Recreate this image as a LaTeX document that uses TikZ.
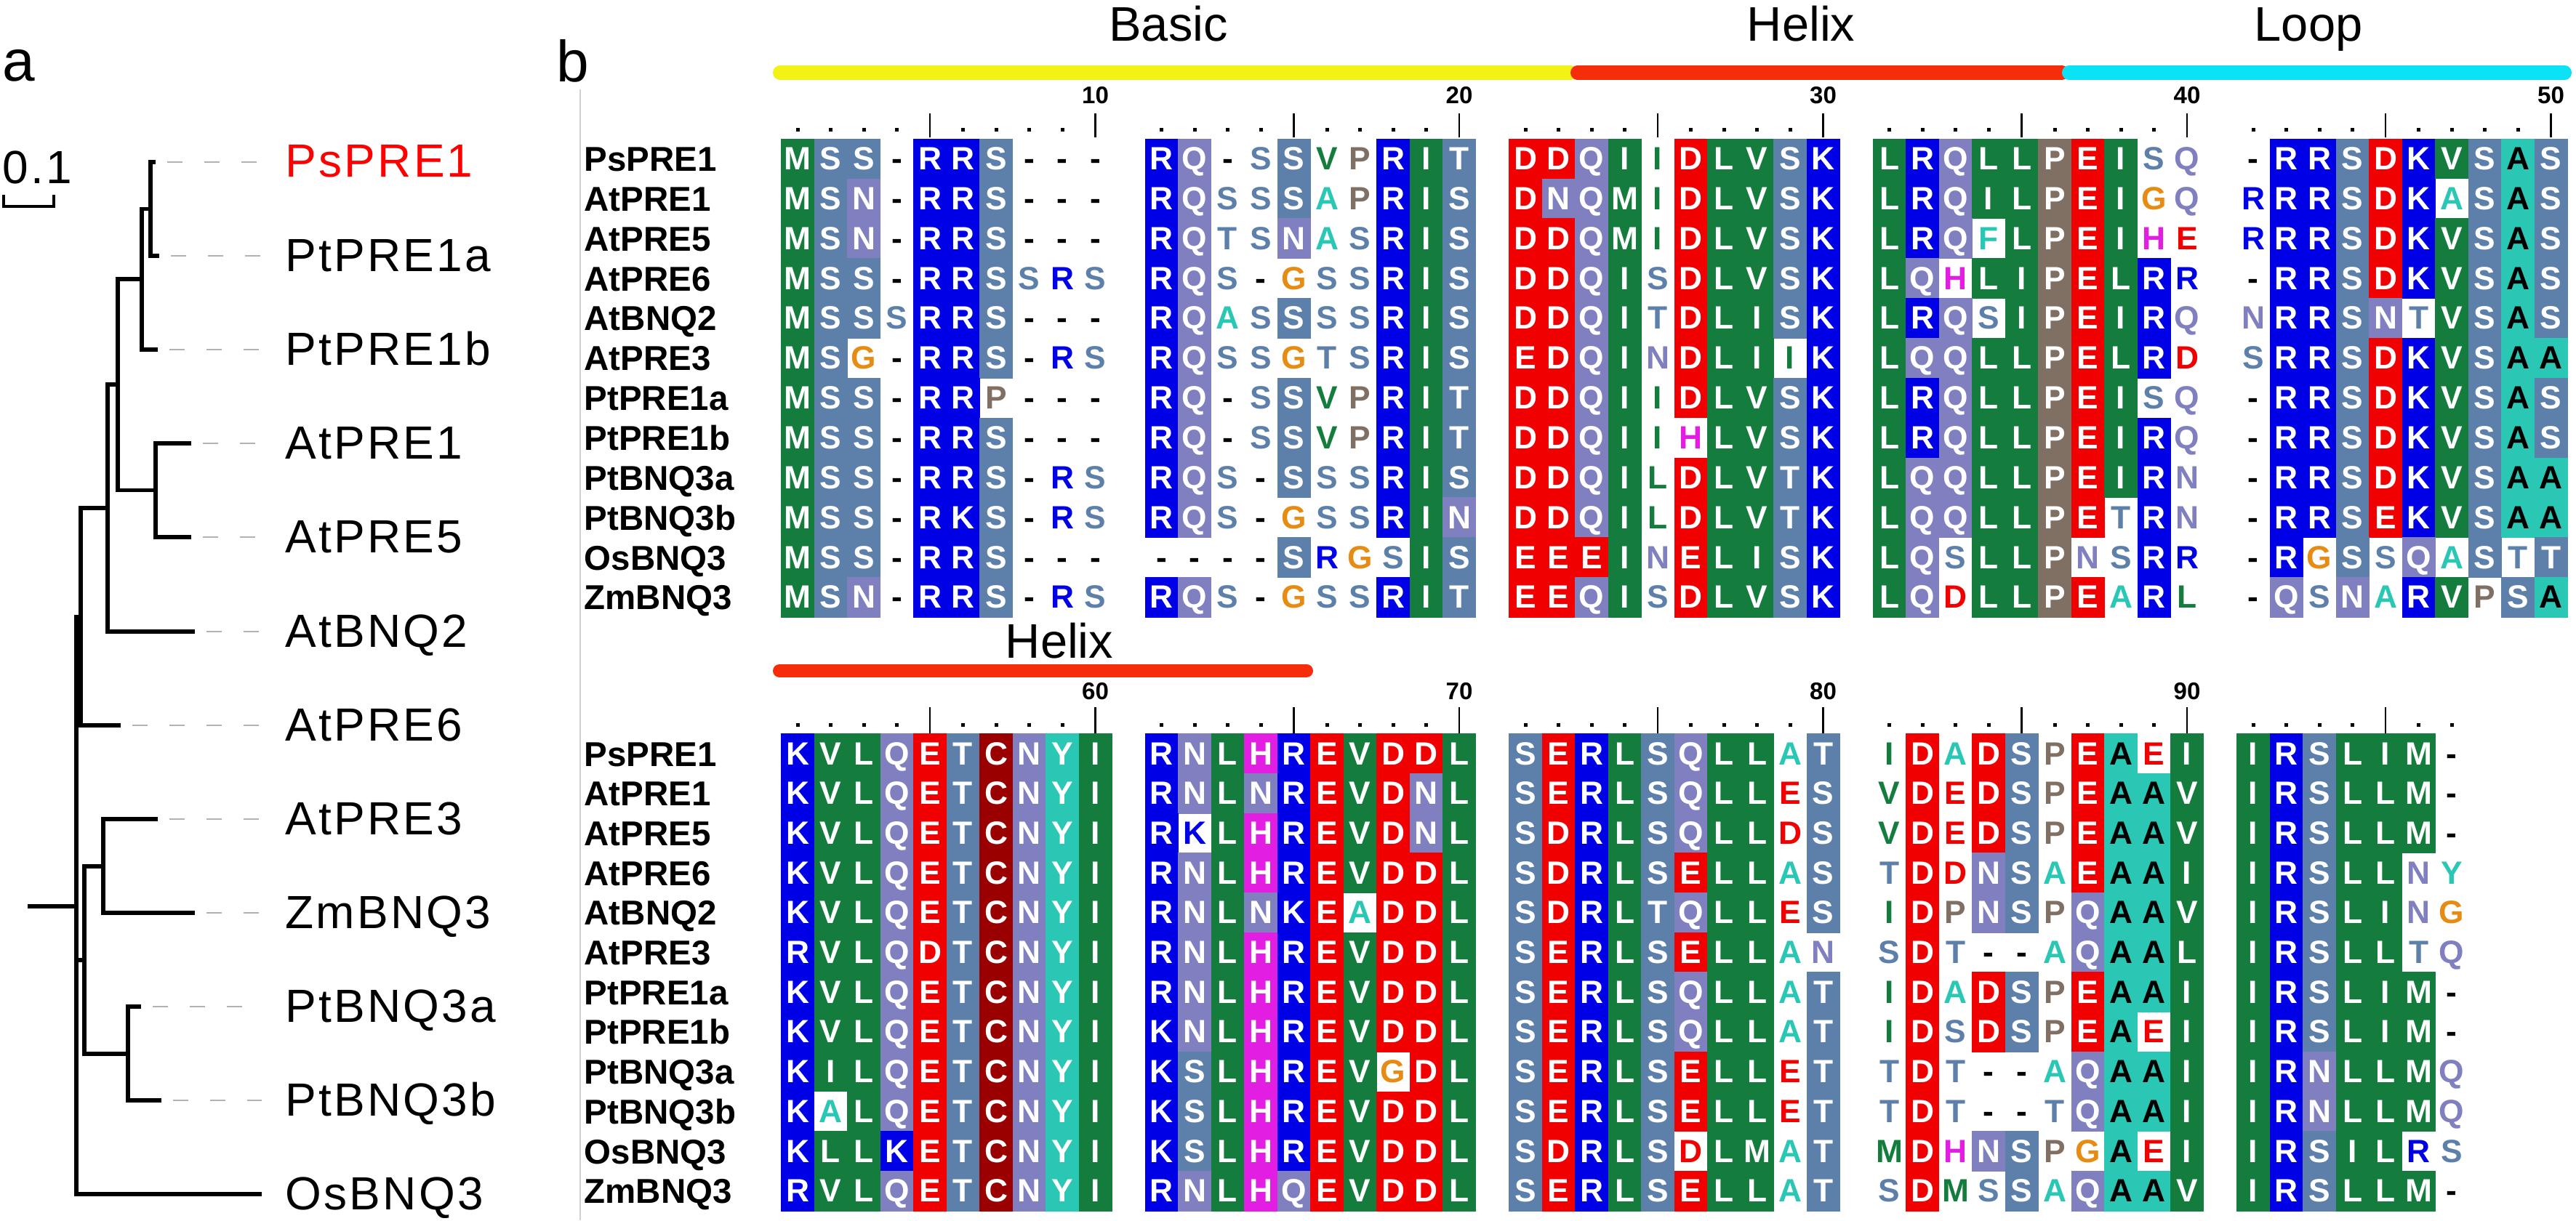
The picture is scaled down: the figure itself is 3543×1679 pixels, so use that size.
\documentclass[tikz,border=0pt]{standalone}
\usepackage{fontspec}
\setmainfont{Liberation Sans}
\newfontfamily\treefont[LetterSpace=5]{Liberation Sans}
\usetikzlibrary{calc}

% residue colours
\definecolor{posblue}{RGB}{0,0,230}
\definecolor{amidlav}{RGB}{128,128,192}
\definecolor{hydsteel}{RGB}{92,128,170}
\definecolor{hydgreen}{RGB}{20,125,62}
\definecolor{acidred}{RGB}{240,0,0}
\definecolor{probrown}{RGB}{128,112,100}
\definecolor{alateal}{RGB}{42,200,180}
\definecolor{hismag}{RGB}{225,30,225}
\definecolor{cysred}{RGB}{155,0,0}
\definecolor{glyorange}{RGB}{230,140,20}
\colorlet{resR}{posblue}\colorlet{resK}{posblue}
\colorlet{resN}{amidlav}\colorlet{resQ}{amidlav}
\colorlet{resS}{hydsteel}\colorlet{resT}{hydsteel}
\colorlet{resM}{hydgreen}\colorlet{resI}{hydgreen}
\colorlet{resL}{hydgreen}\colorlet{resV}{hydgreen}
\colorlet{resD}{acidred}\colorlet{resE}{acidred}
\colorlet{resP}{probrown}\colorlet{resG}{glyorange}
\colorlet{resA}{alateal}\colorlet{resY}{alateal}\colorlet{resF}{alateal}
\colorlet{resH}{hismag}\colorlet{resC}{cysred}
% region bars
\definecolor{basicyellow}{RGB}{242,242,22}
\definecolor{helixred}{RGB}{245,45,10}
\definecolor{loopcyan}{RGB}{12,226,245}

\tikzset{
  res/.style={font=\fontsize{12.6}{12.6}\selectfont\bfseries, inner sep=0pt, anchor=base},
  seqname/.style={font=\fontsize{13.5}{13.5}\selectfont\bfseries, inner sep=0pt, anchor=base west},
  leaflabel/.style={font=\treefont\fontsize{18.2}{18.2}\selectfont, inner sep=0pt, anchor=base west},
  branch/.style={line width=1.7pt},
  guide/.style={draw=black!30, line width=0.55pt, dash pattern=on 0.21cm off 0.3cm, shorten <=0.16cm},
  rulertick/.style={line width=0.7pt},
  rulernum/.style={font=\fontsize{9.4}{9.4}\selectfont\bfseries, inner sep=0pt, anchor=base},
  regionlabel/.style={font=\fontsize{19}{19}\selectfont, inner sep=0pt, anchor=base},
  regionbar/.style={line width=0.19cm, line cap=round},
  panel/.style={font=\fontsize{22.8}{22.8}\selectfont, inner sep=0pt, anchor=base west},
}

% one alignment row: upper case = shaded, lower case = coloured letter only
\makeatletter
\newcommand\alnrow[3]{%
  \def\al@tag{#1}\def\al@y{#2}\def\al@col{0}%
  \al@next#3\@nil}
\def\al@next#1{\ifx#1\@nil\else\al@cell{#1}\expandafter\al@next\fi}
\def\al@cell#1{%
  \pgfmathtruncatemacro\al@col{\al@col+1}%
  \pgfmathsetmacro\al@x{1097+500.5*int((\al@col-1)/10)+45.5*mod(\al@col-1,10)}%
  \uppercase{\def\al@up{#1}}%
  \if-#1%
    \node[res,text=black] (r\al@tag-\al@col) at (\al@x,\al@y+15) {-};%
  \else
    \if#1\al@up
      \fill[fill=res\al@up] (\al@x-23,\al@y-27.8) rectangle (\al@x+23,\al@y+27.8);%
      \if A#1\def\al@tc{black}\else\def\al@tc{white}\fi
      \node[res,text=\al@tc] (r\al@tag-\al@col) at (\al@x,\al@y+15) {\al@up};%
    \else
      \node[res,text=res\al@up] (r\al@tag-\al@col) at (\al@x,\al@y+15) {\al@up};%
    \fi
  \fi}
\makeatother

\begin{document}
\begin{tikzpicture}[x=0.01cm,y=-0.01cm]
\useasboundingbox (0,0) rectangle (3543,1679);

%% a: tree
\node[panel] (pa) at (3,112) {a};
\node[leaflabel] (scl) at (3,252) {0.1};
\draw[line width=1.2pt] (5,268) -- (5,284) -- (74,284) -- (74,268);

\coordinate (l1) at (214,223);
\coordinate (l2) at (219,352);
\coordinate (l3) at (217,481);
\coordinate (l4) at (263,610);
\coordinate (l5) at (263,739);
\coordinate (l6) at (268,869);
\coordinate (l7) at (166,998);
\coordinate (l8) at (217,1127);
\coordinate (l9) at (268,1256);
\coordinate (l10) at (194,1385);
\coordinate (l11) at (222,1514);
\coordinate (l12) at (360,1643);
\coordinate (gd) at (360,0);

\coordinate (n1) at (207,287.5);
\coordinate (n2) at (195,384);
\coordinate (n4) at (214,674.5);
\coordinate (n3) at (162,529);
\coordinate (n5) at (148,699);
\coordinate (n6) at (111,848.5);
\coordinate (n7) at (142,1191.5);
\coordinate (n8) at (176,1449.5);
\coordinate (n9) at (116,1320.5);
\coordinate (root) at (105,1247);
\coordinate (stub) at (38,1247);

\draw[branch] (l1) -| (n1) |- (l2);
\draw[branch] (n1) -| (n2) |- (l3);
\draw[branch] (l4) -| (n4) |- (l5);
\draw[branch] (n2) -| (n3) |- (n4);
\draw[branch] (n3) -| (n5) |- (l6);
\draw[branch] (n5) -| (n6) |- (l7);
\draw[branch] (l8) -| (n7) |- (l9);
\draw[branch] (l10) -| (n8) |- (l11);
\draw[branch] (n7) -| (n9) |- (n8);
\draw[branch] (n6) -| (root) |- (l12);
\draw[branch] (n9) -| (root);
\draw[branch] (stub) -- (root);

\foreach \i in {1,...,11}
  \draw[guide] (l\i) -- (l\i -| gd);

\foreach \nm/\lc [count=\i] in {PsPRE1/red,PtPRE1a/black,PtPRE1b/black,AtPRE1/black,AtPRE5/black,AtBNQ2/black,AtPRE6/black,AtPRE3/black,ZmBNQ3/black,PtBNQ3a/black,PtBNQ3b/black,OsBNQ3/black}
  \node[leaflabel,text=\lc] (t\i) at ($(l\i -| gd)+(32,21)$) {\nm};

%% b: alignment
\draw[black!18, line width=0.6pt] (798,123) -- (798,1679);
\node[panel] (pb) at (765,113) {b};

\draw[regionbar, draw=basicyellow] (1072.5,100) -- (2160,100);
\draw[regionbar, draw=helixred] (2169.5,100) -- (2836,100);
\draw[regionbar, draw=loopcyan] (2845.5,100) -- (3527.5,100);
\node[regionlabel] (basic) at (1607,57) {Basic};
\node[regionlabel] (helix1) at (2477,57) {Helix};
\node[regionlabel] (loop) at (3175,57) {Loop};
\draw[regionbar, line width=0.18cm, draw=helixred] (1072,923) -- (1797,923);
\node[regionlabel] (helix2) at (1457,905) {Helix};

% rulers
\foreach \c in {1,...,50}{
  \pgfmathsetmacro\colx{1097+500.5*int((\c-1)/10)+45.5*mod(\c-1,10)}
  \pgfmathtruncatemacro\colm{mod(\c,5)}
  \ifnum\colm=0
    \draw[rulertick] (\colx,156) -- (\colx,189);
  \else
    \fill (\colx-2.5,176.5) rectangle (\colx+2.5,181.5);
  \fi
}
\foreach \c in {1,...,47}{
  \pgfmathsetmacro\colx{1097+500.5*int((\c-1)/10)+45.5*mod(\c-1,10)}
  \pgfmathtruncatemacro\colm{mod(\c,5)}
  \ifnum\colm=0
    \draw[rulertick] (\colx,973) -- (\colx,1009);
  \else
    \fill (\colx-2.5,994.5) rectangle (\colx+2.5,999.5);
  \fi
}
\foreach \n [count=\g from 0] in {10,20,30,40,50}
  \node[rulernum] (num\n) at (1506.5+500.5*\g,143) {\n};
\foreach \n [count=\g from 0] in {60,70,80,90}
  \node[rulernum] (num\n) at (1506.5+500.5*\g,962) {\n};

% names
\foreach \nm [count=\i] in {PsPRE1,AtPRE1,AtPRE5,AtPRE6,AtBNQ2,AtPRE3,PtPRE1a,PtPRE1b,PtBNQ3a,PtBNQ3b,OsBNQ3,ZmBNQ3}{
  \node[seqname] (st\i) at (803,{218.5+54.85*(\i-1)+17}) {\nm};
  \node[seqname] (sb\i) at (803,{1037+54.7*(\i-1)+17}) {\nm};
}

% residues 1-50
\alnrow{t1}{218.5}{MSS-RRS---RQ-sSvpRITDDQIiDLVSKLRQLLPEIsq-RRSDKVSAS}
\alnrow{t2}{273.35}{MSN-RRS---RQssSapRISDNQMiDLVSKLRQILPEIgqrRRSDKaSAS}
\alnrow{t3}{328.2}{MSN-RRS---RQtsNasRISDDQMiDLVSKLRQfLPEIherRRSDKVSAS}
\alnrow{t4}{383.05}{MSS-RRSsrsRQs-gssRISDDQIsDLVSKLQhLIPELRr-RRSDKVSAS}
\alnrow{t5}{437.9}{MSSsRRS---RQasSssRISDDQItDLISKLRQsIPEIRqnRRSNtVSAS}
\alnrow{t6}{492.75}{MSg-RRS-rsRQssgtsRISEDQInDLIiKLQQLLPELRdsRRSDKVSAA}
\alnrow{t7}{547.6}{MSS-RRp---RQ-sSvpRITDDQIiDLVSKLRQLLPEIsq-RRSDKVSAS}
\alnrow{t8}{602.45}{MSS-RRS---RQ-sSvpRITDDQIihLVSKLRQLLPEIRq-RRSDKVSAS}
\alnrow{t9}{657.3}{MSS-RRS-rsRQs-SssRISDDQIlDLVTKLQQLLPEIRn-RRSDKVSAA}
\alnrow{t10}{712.15}{MSS-RKS-rsRQs-gssRINDDQIlDLVTKLQQLLPEtRn-RRSEKVSAA}
\alnrow{t11}{767}{MSS-RRS-------SrgsISEEEInELISKLQsLLPnsRr-RgSsQaStT}
\alnrow{t12}{821.85}{MSN-RRS-rsRQs-gssRITEEQIsDLVSKLQdLLPEaRl-QsNaRVpSA}

% residues 51-97
\alnrow{b1}{1037}{KVLQETCNYIRNLHREVDDLSERLSQLLaTiDaDSpEAeIIRSLIM-}
\alnrow{b2}{1091.7}{KVLQETCNYIRNLNREVDNLSERLSQLLeSvDeDSpEAAVIRSLLM-}
\alnrow{b3}{1146.4}{KVLQETCNYIRkLHREVDNLSDRLSQLLdSvDeDSpEAAVIRSLLM-}
\alnrow{b4}{1201.1}{KVLQETCNYIRNLHREVDDLSDRLSELLaStDdNSaEAAIIRSLLny}
\alnrow{b5}{1255.8}{KVLQETCNYIRNLNKEaDDLSDRLTQLLeSiDpNSpQAAVIRSLIng}
\alnrow{b6}{1310.5}{RVLQDTCNYIRNLHREVDDLSERLSELLansDt--aQAALIRSLLtq}
\alnrow{b7}{1365.2}{KVLQETCNYIRNLHREVDDLSERLSQLLaTiDaDSpEAAIIRSLIM-}
\alnrow{b8}{1419.9}{KVLQETCNYIKNLHREVDDLSERLSQLLaTiDsDSpEAeIIRSLIM-}
\alnrow{b9}{1474.6}{KILQETCNYIKSLHREVgDLSERLSELLeTtDt--aQAAIIRNLLMq}
\alnrow{b10}{1529.3}{KaLQETCNYIKSLHREVDDLSERLSELLeTtDt--tQAAIIRNLLMq}
\alnrow{b11}{1584}{KLLKETCNYIKSLHREVDDLSDRLSdLMaTmDhNSpgAeIIRSILrs}
\alnrow{b12}{1638.7}{RVLQETCNYIRNLHQEVDDLSERLSELLaTsDmsSaQAAVIRSLLM-}
\end{tikzpicture}
\end{document}
